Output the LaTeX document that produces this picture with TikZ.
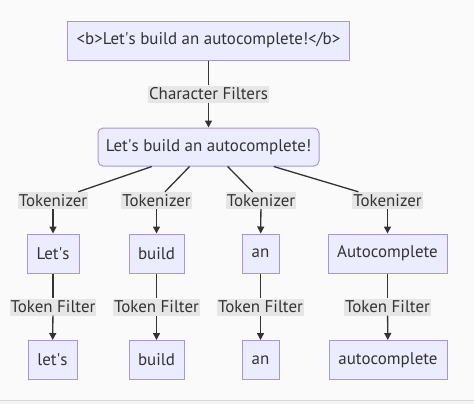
\documentclass[tikz,border=0pt]{standalone}
\usepackage{fontspec}
\setmainfont{PT Sans}
\usetikzlibrary{arrows.meta}
\definecolor{boxfill}{HTML}{ECECFF}
\definecolor{boxline}{HTML}{A994E0}
\definecolor{lblfill}{HTML}{E6E6E6}
\definecolor{ink}{HTML}{333333}
\definecolor{page}{HTML}{FAFAFA}

\begin{document}
\begin{tikzpicture}[x=1bp, y=-1bp,
        font=\fontsize{17}{19}\selectfont, text=ink,
        box/.style={draw=boxline, fill=boxfill, line width=1bp, minimum height=39bp, inner xsep=1bp},
        lbl/.style={fill=lblfill, inner xsep=1bp, inner ysep=0bp, minimum height=17bp},
        edge/.style={draw=ink, line width=1.3bp},
        arr/.style={edge, -{Triangle[length=7bp, width=7bp]}}]
        % page
        \useasboundingbox (0,0) rectangle (474,404);
        \fill[page] (0,0) rectangle (474,404);
        \fill[gray!9] (0,400) rectangle (474,404);
        \draw[gray!30] (0,400) -- (474,400);

        % sentence
        \node[box, minimum width=281bp] (html) at (208.5,40.5) {<b>Let\textquotesingle s build an autocomplete!</b>};
        \node[lbl] (chf) at (208.5,94) {Character Filters};
        \node[box, rounded corners=5bp, minimum width=221bp, minimum height=38bp] (text) at (208.5,147) {Let\textquotesingle s build an autocomplete!};

        % tokens
        \node[lbl] (tk1) at (53,200.5) {Tokenizer};
        \node[lbl] (tk2) at (156.5,200.5) {Tokenizer};
        \node[lbl] (tk3) at (261,200.5) {Tokenizer};
        \node[lbl] (tk4) at (387.5,200.5) {Tokenizer};

        \node[box, minimum width=52bp] (lets) at (53,253.5) {Let\textquotesingle s};
        \node[box, minimum width=55bp] (build) at (156.5,253.5) {build};
        \node[box, minimum width=37bp] (an) at (260.5,253.5) {an};
        \node[box, minimum width=119bp] (auto) at (387.5,253.5) {Autocomplete};

        % filtered tokens
        \node[lbl] (tf1) at (53,307) {Token Filter};
        \node[lbl] (tf2) at (156.5,307) {Token Filter};
        \node[lbl] (tf3) at (260.5,307) {Token Filter};
        \node[lbl] (tf4) at (387.5,307) {Token Filter};

        \node[box, minimum width=49bp] (lets2) at (52.5,360) {let\textquotesingle s};
        \node[box, minimum width=55bp] (build2) at (156.5,360) {build};
        \node[box, minimum width=37bp] (an2) at (260.5,360) {an};
        \node[box, minimum width=118bp] (auto2) at (388,360) {autocomplete};

        % lines
        \draw[edge] (html) -- (chf);
        \draw[arr] (chf) -- (text);

        \draw[edge] (text) -- (tk1);
        \draw[edge] (text) -- (tk2);
        \draw[edge] (text) -- (tk3);
        \draw[edge] (text) -- (tk4);
        \draw[arr] (tk1) -- (lets);
        \draw[arr] (tk2) -- (build);
        \draw[arr] (tk3) -- (an);
        \draw[arr] (tk4) -- (auto);

        \draw[edge] (lets) -- (tf1);
        \draw[edge] (build) -- (tf2);
        \draw[edge] (an) -- (tf3);
        \draw[edge] (auto) -- (tf4);
        \draw[arr] (tf1) -- (lets2);
        \draw[arr] (tf2) -- (build2);
        \draw[arr] (tf3) -- (an2);
        \draw[arr] (tf4) -- (auto2);
\end{tikzpicture}
\end{document}
